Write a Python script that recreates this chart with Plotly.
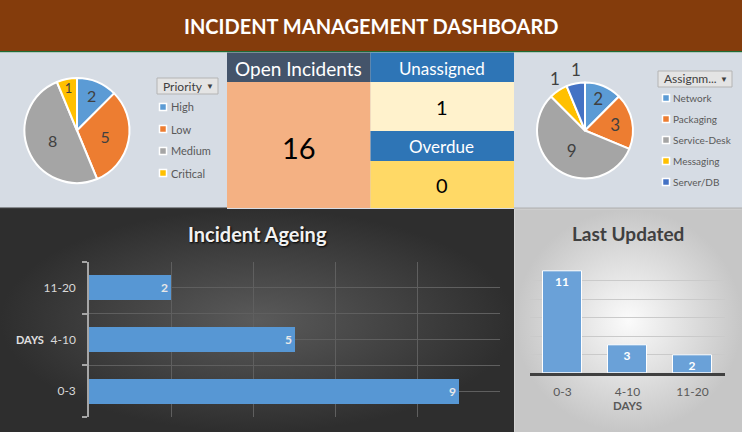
import math
import plotly.graph_objects as go

W, H = 742, 432

# ---------------- data ----------------
dashboard_title = "INCIDENT MANAGEMENT DASHBOARD"

priority_title = "Priority"
priority_labels = ["High", "Low", "Medium", "Critical"]
priority_values = [2, 5, 8, 1]
priority_colors = ["#5B9BD5", "#ED7D31", "#A5A5A5", "#FFC000"]

group_title = "Assignm..."
group_labels = ["Network", "Packaging", "Service-Desk", "Messaging", "Server/DB"]
group_values = [2, 3, 9, 1, 1]
group_colors = ["#5B9BD5", "#ED7D31", "#A5A5A5", "#FFC000", "#4472C4"]

kpi_open = 16
kpi_unassigned = 1
kpi_overdue = 0

ageing_title = "Incident Ageing"
ageing_cats = ["0-3", "4-10", "11-20"]
ageing_values = [9, 5, 2]

updated_title = "Last Updated"
updated_cats = ["0-3", "4-10", "11-20"]
updated_values = [11, 3, 2]

axis_title = "DAYS"

FONT = "Lato"


def px(x):
    return x / W


def py(y):
    return 1 - y / H


fig = go.Figure()
shapes = []
annotations = []


def rect(x0, y0, x1, y1, fill, line=None, lw=0, layer="below"):
    shapes.append(dict(type="rect", xref="paper", yref="paper",
                       x0=px(x0), x1=px(x1), y0=py(y1), y1=py(y0),
                       fillcolor=fill, line=dict(color=line or fill, width=lw),
                       layer=layer))


def text(x, y, s, size, color, bold=False, xanchor="center", shadow=None):
    f = dict(family=FONT, size=size, color=color)
    if shadow:
        f["shadow"] = shadow
    annotations.append(dict(xref="paper", yref="paper", x=px(x), y=py(y),
                            text=f"<b>{s}</b>" if bold else s, showarrow=False,
                            xanchor=xanchor, yanchor="middle", font=f))


# ---------------- panels ----------------
rect(0, 0, W, 51, "#843C0C")
rect(0, 51, W, 52.5, "#1F6B35")
rect(0, 52.5, W, 209, "#D6DCE4")
rect(0, 207.5, 227, 209.5, "#3A3A3A")
rect(514, 207.5, W, 209.5, "#B0B0B0")
# KPI tiles
rect(227, 52.5, 370.5, 82, "#44546A")
rect(227, 82, 370.5, 208, "#F4B183")
rect(370.5, 52.5, 514, 82, "#2E75B6")
rect(370.5, 82, 514, 131, "#FFF2CC")
rect(370.5, 131, 514, 161, "#2E75B6")
rect(370.5, 161, 514, 208, "#FFD966")
# bottom panels base
rect(0, 209, 514, H, "#3C3C3C")
rect(514, 209, W, H, "#E0E0E0", line="#C8C8C8", lw=1)

# gradient backgrounds (pixel-space overlay axis)
fig.add_trace(go.Scatter(x=[0, 514, 514, 0, 0], y=[209, 209, H, H, 209],
                         mode="lines", fill="toself", line=dict(width=0),
                         fillgradient=dict(type="radial",
                                           colorscale=[[0, "#5A5A5A"], [1, "#2E2E2E"]]),
                         hoverinfo="skip", showlegend=False, xaxis="x", yaxis="y"))
fig.add_trace(go.Scatter(x=[515, W, W, 515, 515], y=[209.5, 209.5, H, H, 209.5],
                         mode="lines", fill="toself", line=dict(width=0),
                         fillgradient=dict(type="radial",
                                           colorscale=[[0, "#FBFBFB"], [1, "#C6C6C6"]]),
                         hoverinfo="skip", showlegend=False, xaxis="x", yaxis="y"))

# ---------------- header ----------------
text(371, 26, dashboard_title, 20, "#FFFFFF", bold=True)

# ---------------- KPI text ----------------
text(298.5, 68, "Open Incidents", 19, "#FFFFFF")
text(298.5, 147, str(kpi_open), 29, "#000000")
text(442, 68, "Unassigned", 17, "#FFFFFF")
text(442, 107, str(kpi_unassigned), 20, "#000000")
text(442, 146, "Overdue", 17, "#FFFFFF")
text(442, 185, str(kpi_overdue), 20, "#000000")

# ---------------- pies ----------------
cxL, cyL, rL = 77, 130.5, 52.5
fig.add_trace(go.Pie(labels=priority_labels, values=priority_values, sort=False,
                     direction="clockwise", rotation=0,
                     marker=dict(colors=priority_colors, line=dict(color="#FFFFFF", width=2)),
                     textinfo="value", textposition="inside",
                     insidetextorientation="horizontal",
                     textfont=dict(family=FONT, size=16, color="#404040"),
                     domain=dict(x=[px(cxL - rL), px(cxL + rL)], y=[py(cyL + rL), py(cyL - rL)]),
                     showlegend=False, hoverinfo="label+value"))

cxR, cyR, rR = 585, 130.5, 48
small = [v / sum(group_values) < 0.1 for v in group_values]
fig.add_trace(go.Pie(labels=group_labels, values=group_values, sort=False,
                     direction="clockwise", rotation=0,
                     marker=dict(colors=group_colors, line=dict(color="#FFFFFF", width=2)),
                     textinfo="value",
                     textposition=["none" if s else "inside" for s in small],
                     insidetextorientation="horizontal",
                     textfont=dict(family=FONT, size=17, color="#404040"),
                     domain=dict(x=[px(cxR - rR), px(cxR + rR)], y=[py(cyR + rR), py(cyR - rR)]),
                     showlegend=False, hoverinfo="label+value"))
# outside labels for the thin slices (placed along each slice's mid-angle)
total = sum(group_values)
cum = 0
for v, s in zip(group_values, small):
    mid = (cum + v / 2) / total * 2 * math.pi
    cum += v
    if s:
        rr = rR + 12
        text(cxR + rr * math.sin(mid) + 3, cyR - rr * math.cos(mid) - 2, str(v), 17, "#404040")


# ---------------- slicer-like legends ----------------
def slicer(x0, y0, x1, y1, title, labels, colors, first_y, step, mx, tx, size):
    shapes.append(dict(type="rect", xref="paper", yref="paper",
                       x0=px(x0), x1=px(x1), y0=py(y1), y1=py(y0),
                       fillcolor="#E4E4E4", line=dict(color="#B4B4B4", width=1), layer="above"))
    text(x0 + 4, (y0 + y1) / 2, title, 12, "#404040", xanchor="left")
    text(x1 - 8, (y0 + y1) / 2, "▼", 8, "#404040")
    ys = [first_y + i * step for i in range(len(labels))]
    fig.add_trace(go.Scatter(x=[mx] * len(labels), y=ys, mode="markers",
                             marker=dict(symbol="square", size=7, color=colors,
                                         line=dict(color="#FFFFFF", width=1.5)),
                             hoverinfo="skip", showlegend=False, xaxis="x", yaxis="y"))
    for lab, yy in zip(labels, ys):
        text(tx, yy, lab, size, "#595959", xanchor="left")


slicer(157, 78, 218, 94, priority_title, priority_labels, priority_colors, 107, 22, 163, 169, 11)
slicer(658, 71, 732, 87, group_title, group_labels, group_colors, 98, 21, 666, 671, 10)

# ---------------- Incident Ageing (horizontal bars) ----------------
fig.add_trace(go.Bar(y=list(range(len(ageing_cats))), x=ageing_values, orientation="h",
                     width=0.48, marker=dict(color="#5797D4", line=dict(width=0)),
                     text=[str(v) for v in ageing_values], textposition="inside",
                     insidetextanchor="end", textangle=0,
                     textfont=dict(family=FONT, size=12, color="#E8E8E8", weight="bold"),
                     xaxis="x2", yaxis="y2", showlegend=False, hoverinfo="x"))
text(257, 234, ageing_title, 20, "#F2F2F2", bold=True, shadow="1px 1px 2px #000000")
text(30, 339, axis_title, 11, "#E0E0E0", bold=True)

# ---------------- Last Updated (columns) ----------------
fig.add_trace(go.Bar(x=list(range(len(updated_cats))), y=updated_values,
                     width=0.61, marker=dict(color="#6AA1D8", line=dict(color="#FFFFFF", width=1)),
                     text=[str(v) for v in updated_values], textposition="inside",
                     insidetextanchor="end", textangle=0, constraintext="none",
                     textfont=dict(family=FONT, size=12, color="#FFFFFF", weight="bold"),
                     xaxis="x3", yaxis="y3", showlegend=False, hoverinfo="y"))
text(628, 234, updated_title, 19, "#404040", bold=True)

grid_dark = "#5F5F5F"
fig.update_layout(
    width=W, height=H, autosize=False,
    margin=dict(l=0, r=0, t=0, b=0, pad=0),
    paper_bgcolor="#FFFFFF", plot_bgcolor="rgba(0,0,0,0)",
    font=dict(family=FONT),
    shapes=shapes, annotations=annotations,
    bargap=0,
    xaxis=dict(domain=[0, 1], range=[0, W], visible=False, fixedrange=True),
    yaxis=dict(domain=[0, 1], range=[H, 0], visible=False, fixedrange=True),
    xaxis2=dict(domain=[px(89), px(500)], anchor="y2", range=[0, 10], dtick=2,
                showgrid=True, gridcolor=grid_dark, gridwidth=1, showticklabels=False,
                zeroline=False, showline=False, ticks=""),
    yaxis2=dict(domain=[py(417), py(262)], anchor="x2", range=[-0.5, 2.5],
                tickvals=list(range(len(ageing_cats))), ticktext=ageing_cats,
                showgrid=True, gridcolor=grid_dark, ticks="", ticklabelstandoff=9,
                tickfont=dict(family=FONT, size=12, color="#D9D9D9"),
                showline=True, linecolor="#A6A6A6", linewidth=1.5, zeroline=False,
                minor=dict(tickvals=[-0.5, 0.5, 1.5, 2.5], ticks="outside", ticklen=5,
                           tickcolor="#A6A6A6", tickwidth=1.5, showgrid=True,
                           gridcolor=grid_dark)),
    xaxis3=dict(domain=[px(530), px(725)], anchor="y3", range=[-0.5, 2.5],
                tickvals=list(range(len(updated_cats))), ticktext=updated_cats,
                showline=True, linecolor="#404040", linewidth=2.5, ticks="",
                showgrid=False, zeroline=False, ticklabelstandoff=6,
                tickfont=dict(family=FONT, size=12, color="#595959"),
                title=dict(text=f"<b>{axis_title}</b>", standoff=4,
                           font=dict(family=FONT, size=11.5, color="#595959"))),
    yaxis3=dict(domain=[py(373.3), py(262.3)], anchor="x3", range=[0, 12], dtick=2,
                showgrid=True, gridcolor="#CACACA", gridwidth=1.2, showticklabels=False,
                zeroline=False, showline=False, ticks=""),
)

fig.write_html("out.html", config={"displayModeBar": False},
               post_script="document.body.style.margin='0';document.body.style.padding='0';")
